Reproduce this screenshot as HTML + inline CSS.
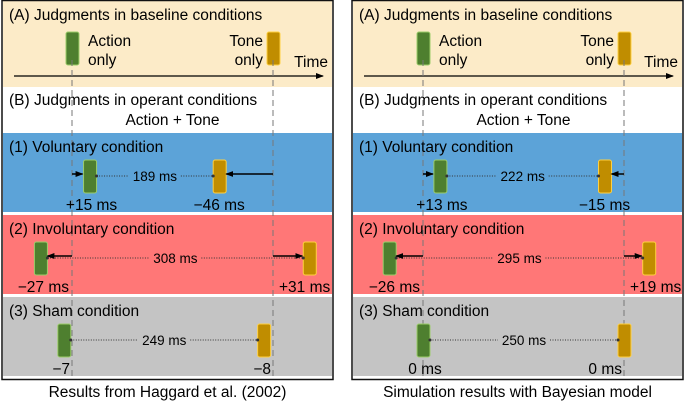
<!DOCTYPE html>
<html><head><meta charset="utf-8"><style>
body{margin:0;background:#fff}
svg{display:block;font-family:"Liberation Sans",Arial,sans-serif}
</style></head><body>
<svg id="fig" width="685" height="401" viewBox="0 0 685 401"></svg>
<script>
const panelTitles = ["Results from Haggard et al. (2002)", "Simulation results with Bayesian model"];
const conditions = ["(1) Voluntary condition", "(2) Involuntary condition", "(3) Sham condition"];
const intervals = [[189, 308, 249], [222, 295, 250]];
const actionShift = [[15, -27, -7], [13, -26, 0]];
const toneShift = [[-46, 31, -8], [-15, 19, 0]];
const actionLabels = [["+15 ms", "\u221227 ms", "\u22127"], ["+13 ms", "\u221226 ms", "0 ms"]];
const toneLabels = [["\u221246 ms", "+31 ms", "\u22128"], ["\u221215 ms", "+19 ms", "0 ms"]];

const NS = "http://www.w3.org/2000/svg";
const svg = document.getElementById("fig");
function mk(tag, attrs, parent, text) {
  const e = document.createElementNS(NS, tag);
  for (const k in attrs) e.setAttribute(k, attrs[k]);
  if (text !== undefined) e.textContent = text;
  (parent || svg).appendChild(e);
  return e;
}
const defs = mk("defs", {});
const mrk = mk("marker", {id: "ah", markerWidth: 8, markerHeight: 8, refX: 7, refY: 4, orient: "auto", markerUnits: "userSpaceOnUse"}, defs);
mk("path", {d: "M0,1 L8,4 L0,7 Z", fill: "#000"}, mrk);

const panels = [{x0: 2, x1: 333, a: 72, t: 273, s: 1.17}, {x0: 352, x1: 683, a: 423, t: 624, s: 1.3}];
const bandColors = ["#5ca3d8", "#ff7777", "#c4c4c4"];
const bandY = [133, 215, 297];
const GREEN = "#4e7f2f", GOLD = "#c08d00";
const FS = 15.5;

panels.forEach((P, pi) => {
  const g = mk("g", {});
  
  
  const w = P.x1 - P.x0;
  mk("rect", {x: P.x0 + 1, y: 1, width: w - 2, height: 86, fill: "#fcebc8"}, g);
  const tA = mk("text", {x: P.x0 + 7, y: 20, "font-size": FS}, g, "(A) Judgments in baseline conditions");
  
  
  mk("rect", {x: P.a - 6, y: 32, width: 13, height: 33, rx: 2, fill: GREEN, stroke: "#9ccd6a", "stroke-width": 1}, g);
  mk("rect", {x: P.t - 6, y: 32, width: 13, height: 33, rx: 2, fill: GOLD, stroke: "#ffd040", "stroke-width": 1}, g);
  mk("text", {x: P.a + 16, y: 46, "font-size": FS}, g, "Action");
  mk("text", {x: P.a + 16, y: 65, "font-size": FS}, g, "only");
  mk("text", {x: P.t - 10, y: 46, "font-size": FS, "text-anchor": "end"}, g, "Tone");
  mk("text", {x: P.t - 10, y: 65, "font-size": FS, "text-anchor": "end"}, g, "only");
  mk("text", {x: P.x1 - 5, y: 67, "font-size": FS, "text-anchor": "end"}, g, "Time");
  mk("line", {x1: P.x0 + 12, y1: 76, x2: P.x1 - 10, y2: 76, stroke: "#000", "stroke-width": 1.3, "marker-end": "url(#ah)"}, g);
  mk("text", {x: P.x0 + 7, y: 105, "font-size": FS}, g, "(B) Judgments in operant conditions");
  mk("text", {x: (P.a + P.t) / 2, y: 125, "font-size": FS, "text-anchor": "middle"}, g, "Action + Tone");
  for (let c = 0; c < 3; c++) {
    const y = bandY[c];
    const band = mk("rect", {x: P.x0 + 1, y: y, width: w - 2, height: 79, fill: bandColors[c]}, g);
    
    
  }
  mk("line", {x1: P.a, y1: 60, x2: P.a, y2: 378, stroke: "#777", "stroke-width": 1, "stroke-dasharray": "6,4"}, g);
  mk("line", {x1: P.t, y1: 60, x2: P.t, y2: 378, stroke: "#777", "stroke-width": 1, "stroke-dasharray": "6,4"}, g);
  for (let c = 0; c < 3; c++) {
    const y = bandY[c];
    mk("text", {x: P.x0 + 7, y: y + 19, "font-size": FS}, g, conditions[c]);
    const ax = P.a + actionShift[pi][c] * P.s;
    const tx = P.t + toneShift[pi][c] * P.s;
    const my = y + 43;
    const ab = mk("rect", {x: ax - 6, y: y + 27, width: 13, height: 33, rx: 2, fill: GREEN, stroke: "#9ccd6a", "stroke-width": 1}, g);
    
    
    const tb = mk("rect", {x: tx - 6, y: y + 27, width: 13, height: 33, rx: 2, fill: GOLD, stroke: "#ffd040", "stroke-width": 1}, g);
    
    
    const lx = ax + 7, rx = tx - 6;
    const mid = (lx + rx) / 2;
    mk("line", {x1: lx, y1: my, x2: mid - 26, y2: my, stroke: "#333", "stroke-dasharray": "1,1.5"}, g);
    mk("line", {x1: mid + 26, y1: my, x2: rx, y2: my, stroke: "#333", "stroke-dasharray": "1,1.5"}, g);
    mk("circle", {cx: lx, cy: my, r: 1.5, fill: "#333"}, g);
    mk("circle", {cx: rx, cy: my, r: 1.5, fill: "#333"}, g);
    const it = mk("text", {x: mid, y: my + 5, "font-size": 13.5, "text-anchor": "middle"}, g, intervals[pi][c] + " ms");
    
    
    if (Math.abs(ax - P.a) > 12) {
      const end = ax > P.a ? ax - 7 : ax + 7;
      mk("line", {x1: P.a, y1: my - 2, x2: end, y2: my - 2, stroke: "#000", "stroke-width": 1.5, "marker-end": "url(#ah)"}, g);
    }
    if (Math.abs(tx - P.t) > 12) {
      const end = tx > P.t ? tx - 7 : tx + 7;
      mk("line", {x1: P.t, y1: my - 2, x2: end, y2: my - 2, stroke: "#000", "stroke-width": 1.5, "marker-end": "url(#ah)"}, g);
    }
    const la = actionLabels[pi][c];
    const ta = toneLabels[pi][c];
    const aNeg = ax < P.a - 12;
    const al = mk("text", {x: aNeg ? P.a - 3 : (ax < P.a ? P.a - 2 : ax + 2), y: y + 77, "font-size": FS, "text-anchor": (aNeg || ax < P.a) ? "end" : "middle"}, g, la);
    
    
    const tPos = tx > P.t + 12;
    const tl = mk("text", {x: tPos ? P.t + 6 : (tx < P.t - 12 ? tx : P.t - 2), y: y + 77, "font-size": FS, "text-anchor": tPos ? "start" : (tx < P.t - 12 ? "middle" : "end")}, g, ta);
    
    
  }
  mk("rect", {x: P.x0, y: 0.5, width: w, height: 379, fill: "none", stroke: "#111", "stroke-width": 1.5}, g);
  const cap = mk("text", {x: (P.x0 + P.x1) / 2, y: 397, "font-size": FS, "text-anchor": "middle"}, g, panelTitles[pi]);
  
  
});
</script>
</body></html>
